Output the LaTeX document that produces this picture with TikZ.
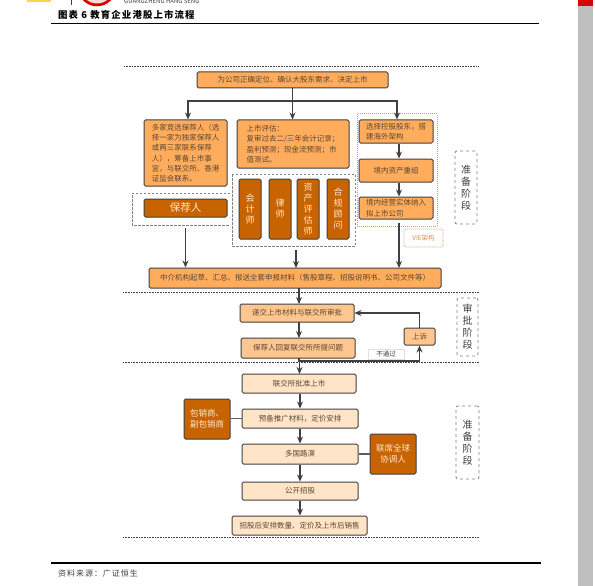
\documentclass[tikz,border=0pt]{standalone}
\usepackage{fontspec}
\setmainfont{Noto Sans CJK SC}
\newfontfamily\spaced[LetterSpace=12]{Noto Sans CJK SC}
\usetikzlibrary{arrows.meta}
\definecolor{lineGray}{HTML}{404040}
\definecolor{boxOrange}{HTML}{FFAD5C}
\definecolor{boxMid}{HTML}{FFC78F}
\definecolor{boxPale}{HTML}{FFE4C8}
\definecolor{boxDark}{HTML}{C86400}
\definecolor{textBrown}{HTML}{5C4630}
\definecolor{textLight}{HTML}{FFE9D2}
\definecolor{frameTan}{HTML}{C9A070}

\begin{document}
\begin{tikzpicture}[x=1pt, y=-1pt, font=\fontsize{7.5}{10.3}\selectfont,
  arr/.style={-{Stealth[length=7pt, width=6pt]}, line width=1.2pt, draw=lineGray},
  plain/.style={line width=1.1pt, draw=lineGray!85},
  box/.style={draw=lineGray, line width=1pt, rounded corners=1.5pt, text=textBrown, inner sep=0pt, align=center},
  orange/.style={box, fill=boxOrange},
  mid/.style={box, fill=boxMid},
  pale/.style={box, fill=boxPale},
  dark/.style={box, fill=boxDark, text=textLight},
  tall/.style={dark, minimum width=22pt, minimum height=60pt, font=\fontsize{9}{11}\selectfont},
  phase/.style={draw=gray, dashed, line width=0.8pt, rounded corners=2pt, text=lineGray, inner sep=0pt, align=center,
    font=\fontsize{10}{12}\selectfont, minimum width=22pt},
  sep/.style={draw=lineGray, line width=0.9pt, dash pattern=on 1pt off 0.6pt},
  frame/.style={draw=gray, line width=1pt, dash pattern=on 2.5pt off 1.5pt},
  tan/.style={draw=frameTan, line width=1pt, dash pattern=on 1pt off 1pt}]

  \useasboundingbox (0,0) rectangle (595,586);
  \fill[white] (0,0) rectangle (595,586);

  % Page furniture
  \fill[black!25] (578,0) rectangle (593,586);
  \fill[red!85!black] (578,0) rectangle (593,6);
  \fill[yellow!60!orange!70] (27,0) rectangle (51,2);
  \draw[lineGray, line width=0.6pt] (71,0) -- (71,5);
  \begin{scope}
    \clip (0,0) rectangle (595,10);
    \fill[red!85!black] (97,-13) circle (19.3);
    \fill[red!15] (97,-13) circle (16.5);
    \node[anchor=base west, inner sep=0pt, font=\fontsize{6}{6}\selectfont, text=lineGray] (brand) at (124,4) {GUANGZHENG HANG SENG};
  \end{scope}
  \node[anchor=west, inner sep=0pt, font=\fontsize{9.4}{9.4}\selectfont\bfseries\spaced] (title) at (58,15) {图表 6 教育企业港股上市流程};
  \draw[black, line width=1pt] (51,23.5) -- (539,23.5);
  \draw[black, line width=1.3pt] (51,563) -- (541,563);
  \node[anchor=west, inner sep=0pt, font=\fontsize{8}{8}\selectfont\spaced, text=lineGray] (source) at (58,573) {资料来源：广证恒生};

  % Phase separators
  \draw[sep] (124,66) -- (479,66);
  \draw[sep] (123,292) -- (479,292);
  \draw[sep] (123,362) -- (479,362);
  \draw[sep] (123,537) -- (479,537);

  % ---- Frames ----
  \draw[frame] (230,193) -- (132,193) -- (132,225) -- (230,225);
  \draw[frame] (232,174) rectangle (355,246);
  \draw[tan] (357,114) rectangle (437,226);

  % ---- Preparation ----
  \node[orange, minimum width=191pt, minimum height=16pt] (top) at (292.5,80) {为公司正确定位、确认大股东需求、决定上市};

  \node[orange, minimum width=83pt, minimum height=66pt, align=left] (pick) at (185.5,153) {多家竞选保荐人（选\\择一家为独家保荐人\\或两三家联系保荐\\人），筹备上市事\\宜，与联交所、香港\\证监会联系。};
  \node[orange, minimum width=112pt, minimum height=48pt, align=left] (assess) at (293,144) {上市评估：\\复审过去二/三年会计记录；\\盈利预测；现金流预测；市\\值测试。};
  \node[dark, minimum width=83pt, minimum height=18pt, font=\fontsize{10.5}{12}\selectfont] (sponsor) at (185.5,208) {保荐人};

  \node[tall] (audit) at (250,209) {会\\计\\师};
  \node[tall] (lawyer) at (280,209) {律\\师};
  \node[tall] (valuer) at (308,209) {资\\产\\评\\估\\师};
  \node[tall] (comply) at (338,209) {合\\规\\顾\\问};

  \node[orange, minimum width=74pt, minimum height=23pt, align=left] (holder) at (396,131.5) {选择控股股东，搭\\建海外架构};
  \node[orange, minimum width=74pt, minimum height=23pt] (restruct) at (396,170.5) {境内资产重组};
  \node[orange, minimum width=74pt, minimum height=22pt, align=left] (entity) at (396,208) {境内经营实体纳入\\拟上市公司};
  \node[draw=frameTan, line width=0.8pt, dash pattern=on 1pt off 1pt, rounded corners=1.5pt, text=orange!80!black!70,
    minimum width=39pt, minimum height=18pt, inner sep=0pt, font=\fontsize{6.5}{8}\selectfont] (vie) at (423.5,238) {VIE架构};

  \node[phase, minimum height=73pt] (stageA) at (466,187.5) {准\\备\\阶\\段};

  \node[orange, minimum width=292pt, minimum height=20pt] (docs) at (295,278) {中介机构起草、汇总、报送全套申报材料（售股章程、招股说明书、公司文件等）};

  \coordinate (split) at (292.5,101);
  \draw[arr] (top.south) -- ([xshift=-0.5pt]assess.north);
  \draw[arr] (split) -| ([xshift=2.5pt]pick.north);
  \draw[arr] (split) -| ([xshift=1pt]holder.north);
  \draw[arr] (sponsor.south |- 0,228) -- (sponsor.south |- docs.north);
  \draw[arr] (296,250) -- (296,268);
  \draw[arr] (399,223) -- (399,268);
  \draw[arr] ([xshift=3pt]holder.south) -- ([xshift=3pt]restruct.north);
  \draw[arr] ([xshift=3pt]restruct.south) -- ([xshift=3pt]entity.north);

  % ---- Approval ----
  \node[mid, minimum width=114pt, minimum height=18pt] (submit) at (297,313) {递交上市材料与联交所审批};
  \node[mid, minimum width=114pt, minimum height=20pt] (reply) at (298,348) {保荐人回复联交所所提问题};
  \node[mid, minimum width=31pt, minimum height=17pt] (appeal) at (419.5,336.5) {上诉};
  \node[draw=black!12, line width=0.5pt, text=lineGray, minimum width=36pt, minimum height=10pt, inner sep=0pt, font=\fontsize{6.5}{8}\selectfont] (reject) at (386,354) {不通过};
  \node[phase, minimum height=58pt, minimum width=21pt] (stageB) at (467.5,327) {审\\批\\阶\\段};

  \draw[arr] (299,288) -- (299,304);
  \draw[arr] (299,322) -- (299,338);
  \draw[arr] (appeal.north) |- (submit.east);
  \draw[arr] (299,358) -- (299,361) -| (appeal.south);

  % ---- Listing ----
  \node[pale, minimum width=114pt, minimum height=19pt] (approve) at (299,383.5) {联交所批准上市};
  \node[pale, minimum width=116pt, minimum height=19pt] (promo) at (300,418.5) {预备推广材料，定价安排};
  \node[pale, minimum width=116pt, minimum height=20pt] (roadshow) at (300,454) {多国路演};
  \node[pale, minimum width=116pt, minimum height=18pt] (offer) at (300,491) {公开招股};
  \node[pale, minimum width=135pt, minimum height=19pt] (sale) at (299.5,525.5) {招股后安排数量、定价及上市后销售};
  \node[dark, minimum width=46pt, minimum height=40pt, font=\fontsize{8.5}{11}\selectfont] (under) at (207,419) {包销商、\\副包销商};
  \node[dark, minimum width=46pt, minimum height=40pt, font=\fontsize{8.5}{11}\selectfont] (coord) at (393,454) {联席全球\\协调人};
  \node[phase, minimum height=73pt, minimum width=23pt] (stageC) at (467.5,442.5) {准\\备\\阶\\段};

  \draw[arr] (299.5,358) -- (299.5,374);
  \draw[arr] (approve.south -| promo.north) -- (promo.north);
  \draw[arr] (promo.south) -- (roadshow.north);
  \draw[arr] (roadshow.south) -- (offer.north);
  \draw[arr] (offer.south) -- (offer.south |- sale.north);
  \draw[plain] (under.east |- promo.west) -- (promo.west);
  \draw[plain] (roadshow.east) -- (coord.west);

\end{tikzpicture}
\end{document}
